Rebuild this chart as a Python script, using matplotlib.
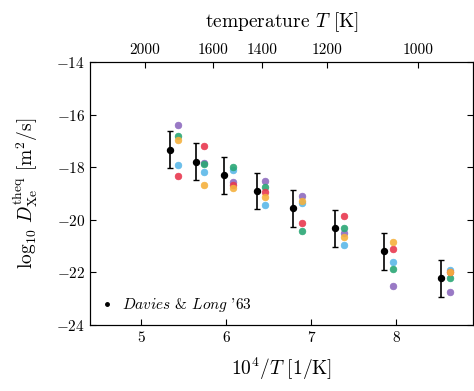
import numpy as np
import matplotlib
matplotlib.use('Agg')
import matplotlib.pyplot as plt

plt.rcParams['font.family'] = 'serif'
plt.rcParams['font.serif'] = ['cmr10']
plt.rcParams['mathtext.fontset'] = 'cm'
plt.rcParams['axes.formatter.use_mathtext'] = True

# measurement temperatures [K]
temps = np.array([1873, 1773, 1673, 1573, 1473, 1373, 1273, 1173])

# Davies & Long '63
dl_logD = [-17.33, -17.79, -18.31, -18.90, -19.56, -20.32, -21.20, -22.22]
dl_err = [0.70, 0.70, 0.70, 0.70, 0.70, 0.70, 0.70, 0.70]

# computed values, one list per model
blue_logD = [-17.93, -18.18, -18.12, -19.43, -19.37, -20.95, -21.59, -21.91]
purple_logD = [-16.40, -17.82, -18.56, -18.52, -19.08, -20.49, -22.53, -22.75]
green_logD = [-16.81, -17.86, -17.98, -18.74, -20.41, -20.32, -21.87, -22.21]
red_logD = [-18.35, -17.19, -18.69, -18.95, -20.13, -19.86, -21.12, -22.00]
orange_logD = [-16.97, -18.67, -18.80, -19.13, -19.30, -20.64, -20.83, -21.97]

series = [(blue_logD, '#5cb8e8'), (purple_logD, '#8e6bbf'), (green_logD, '#2aa775'),
          (red_logD, '#e8384f'), (orange_logD, '#f5b13d')]

top_T = [2000, 1600, 1400, 1200, 1000]

x = 1e4/temps

fig = plt.figure(figsize=(4.74, 3.91), dpi=100)
ax = fig.add_axes([0.19, 0.169, 0.808, 0.672])

for vals, c in series:
    ax.plot(x+0.1, vals, 'o', color=c, markersize=4.8, markeredgewidth=0.5, alpha=0.9, zorder=2)

ax.errorbar(x, dl_logD, yerr=dl_err, fmt='o', color='black', markersize=4.3,
            capsize=2.5, elinewidth=1.2, capthick=1.0, zorder=3)
# legend proxy (dot only)
ax.plot([], [], 'o', color='black', markersize=2.5,
        label=r"$\it{Davies}$ & $\it{Long}$ '$\it{63}$")

ax.set_xlim(4.4, 8.9)
ax.set_ylim(-24, -14)
ax.set_xticks([5, 6, 7, 8])
ax.set_yticks([-24, -22, -20, -18, -16, -14])
ax.tick_params(direction='in', labelsize=11, right=True, length=4)
ax.set_xlabel(r'$10^4/T$ [1/K]', fontsize=14, labelpad=8)
ax.set_ylabel(r'$\log_{10}\,D^{\rm theq}_{\rm Xe}$ [m$^2$/s]', fontsize=14, labelpad=12)

ax.legend(loc='lower left', frameon=False, numpoints=1, fontsize=11,
          handlelength=0.8, handletextpad=0.6, borderaxespad=0.3)

ax2 = ax.twiny()
ax2.set_xlim(4, 11)
ax2.set_xticks(1e4/np.array(top_T))
ax2.set_xticklabels([str(t) for t in top_T])
ax2.tick_params(direction='in', labelsize=11, length=4)
ax2.set_xlabel(r'temperature $T$ [K]', fontsize=14, labelpad=12)

plt.savefig('out.png', dpi=100)
